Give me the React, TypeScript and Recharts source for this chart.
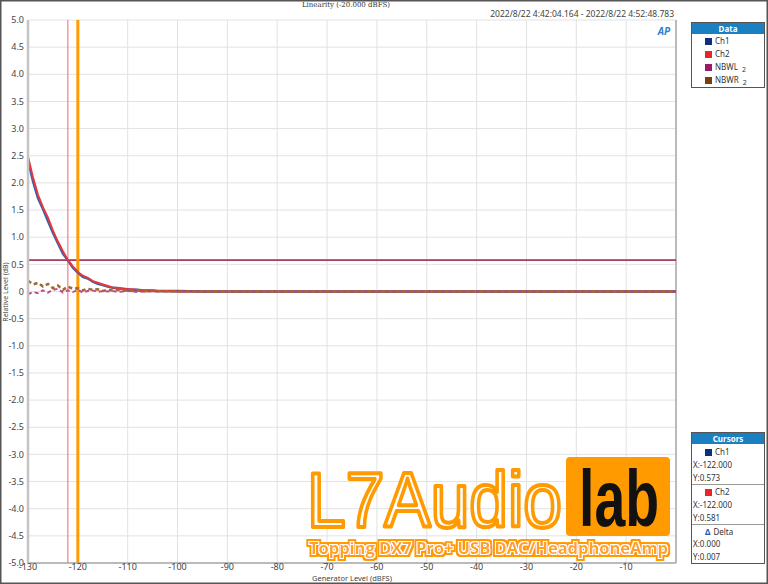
import React from "react";
import { LineChart, Line, XAxis, YAxis, CartesianGrid, ReferenceLine } from "recharts";

// generator level (dBFS)
const levels = [
  -130, -129, -128, -127, -126, -125, -124, -123, -122, -121, -120, -119, -118, -117, -116, -115,
  -114, -113, -112, -111, -110, -109, -108, -107, -106, -105, -104, -103, -102, -101, -100,
  -95, -90, -85, -80, -75, -70, -65, -60, -55, -50, -45, -40, -35, -30, -25, -20, -15, -10, -5, 0,
];

// relative level (dB)
const ch1 = [
  2.42, 2.03, 1.72, 1.52, 1.3, 1.08, 0.89, 0.7, 0.573, 0.44, 0.35, 0.27, 0.24, 0.18, 0.14, 0.12,
  0.09, 0.07, 0.06, 0.05, 0.04, 0.03, 0.03, 0.02, 0.02, 0.02, 0.01, 0.01, 0.01, 0.01, 0.01,
  0, 0, 0, 0, 0, 0, 0, 0, 0, 0, 0, 0, 0, 0, 0, 0, 0, 0, 0, 0,
];
const ch2 = [
  2.48, 2.1, 1.78, 1.55, 1.36, 1.12, 0.92, 0.74, 0.581, 0.46, 0.36, 0.29, 0.25, 0.19, 0.16, 0.13,
  0.1, 0.07, 0.07, 0.05, 0.04, 0.04, 0.03, 0.02, 0.02, 0.02, 0.01, 0.01, 0.01, 0.01, 0,
  0, 0, 0, 0, 0, 0, 0, 0, 0, 0, 0, 0, 0, 0, 0, 0, 0, 0, 0, 0,
];
const nbwl = [
  -0.05, -0.01, -0.03, 0.02, -0.02, 0.03, 0.05, -0.02, 0.02, -0.01, 0.03, -0.02, 0.01, 0.02, -0.01, 0.01,
  0, 0.01, -0.01, 0, 0.01, 0, -0.01, 0, 0, 0, 0, 0, 0, 0, 0,
  0, 0, 0, 0, 0, 0, 0, 0, 0, 0, 0, 0, 0, 0, 0, 0, 0, 0, 0, 0,
];
const nbwr = [
  0.2, 0.13, 0.16, 0.09, 0.14, 0.06, 0.11, 0.03, 0.09, 0.05, 0.06, 0.02, 0.05, 0.03, 0.04, 0.01,
  0.03, 0.02, 0.03, 0.01, 0.02, 0.01, 0.02, 0, 0.01, 0.01, 0, 0.01, 0, 0, 0,
  0, 0, 0, 0, 0, 0, 0, 0, 0, 0, 0, 0, 0, 0, 0, 0, 0, 0, 0, 0,
];

const xTicks = [-130, -120, -110, -100, -90, -80, -70, -60, -50, -40, -30, -20, -10, 0];
const yTicks = [-5, -4.5, -4, -3.5, -3, -2.5, -2, -1.5, -1, -0.5, 0, 0.5, 1, 1.5, 2, 2.5, 3, 3.5, 4, 4.5, 5];

// cursors
const cursorA = -122;
const cursorB = -120;
const cursorCh1Y = 0.573;
const cursorCh2Y = 0.581;

const legendItems = [
  { name: "Ch1", color: "#0d2f80", sub: "" },
  { name: "Ch2", color: "#e8262a", sub: "" },
  { name: "NBWL", color: "#9a1a6a", sub: "2" },
  { name: "NBWR", color: "#7a3d0c", sub: "2" },
];

const data = levels.map((level, i) => ({
  level,
  ch1: ch1[i],
  ch2: ch2[i],
  nbwl: nbwl[i],
  nbwr: nbwr[i],
}));

const font = "'Noto Sans', 'Open Sans', sans-serif";
const tickStyle = { fontSize: 9, fill: "#444", fontFamily: font };

function Box({ top, title, height, children }: any) {
  return (
    <div
      style={{
        position: "absolute",
        left: 691,
        top,
        width: 74,
        height,
        border: "1px solid #555",
        boxSizing: "border-box",
        background: "#fff",
        fontFamily: font,
        fontSize: 8,
        color: "#333",
      }}
    >
      <div
        style={{
          background: "#1a80c2",
          color: "#fff",
          fontWeight: 700,
          textAlign: "center",
          height: 11,
          lineHeight: "11px",
        }}
      >
        {title}
      </div>
      {children}
    </div>
  );
}

function Swatch({ color }: any) {
  return (
    <span
      style={{
        display: "inline-block",
        width: 7,
        height: 7,
        background: color,
        marginRight: 3,
        verticalAlign: "-1px",
      }}
    />
  );
}

const row = { height: 13, lineHeight: "13px", paddingLeft: 1, overflow: "hidden" };

export default function App() {
  return (
    <div
      style={{
        position: "absolute",
        left: 0,
        top: 0,
        width: 768,
        height: 584,
        background: "#fff",
        overflow: "hidden",
      }}
    >
      <LineChart
        width={768}
        height={584}
        data={data}
        margin={{ top: 20, right: 92, bottom: 0, left: 0 }}
      >
        <CartesianGrid stroke="#e2e2e2" strokeWidth={1} />
        <XAxis
          dataKey="level"
          type="number"
          domain={[-130, 0]}
          ticks={xTicks}
          tickFormatter={(v: number) => (v === 0 ? "" : String(v))}
          height={21}
          axisLine={{ stroke: "#a8a8a8", strokeWidth: 1.5 }}
          tickLine={false}
          tickSize={0}
          tickMargin={1}
          tick={tickStyle}
          interval={0}
        />
        <YAxis
          type="number"
          domain={[-5, 5]}
          ticks={yTicks}
          tickFormatter={(v: number) => (v === 0 ? "0" : v.toFixed(1))}
          width={28}
          axisLine={{ stroke: "#c4c4c4", strokeWidth: 2.5 }}
          tickLine={false}
          tickSize={0}
          tickMargin={4}
          tick={tickStyle}
          interval={0}
        />
        <ReferenceLine x={0} stroke="#a8a8a8" strokeWidth={1.5} />
        <ReferenceLine y={cursorCh1Y} stroke="#3a6cc0" strokeWidth={1} />
        <ReferenceLine y={cursorCh2Y} stroke="#c42c3c" strokeWidth={1.5} />
        <ReferenceLine x={cursorA} stroke="#f06478" strokeWidth={1} />
        <ReferenceLine x={cursorB} stroke="#ff9a00" strokeWidth={3} />
        <Line
          dataKey="nbwl"
          stroke="#c0489a"
          strokeWidth={2}
          strokeDasharray="4 3"
          dot={false}
          isAnimationActive={false}
        />
        <Line dataKey="ch1" stroke="#2f63b2" strokeWidth={2.5} dot={false} isAnimationActive={false} />
        <Line dataKey="ch2" stroke="#e8363c" strokeWidth={2} dot={false} isAnimationActive={false} />
        <Line
          dataKey="nbwr"
          stroke="#a06a30"
          strokeWidth={2.5}
          strokeDasharray="4 3"
          dot={false}
          isAnimationActive={false}
        />
      </LineChart>

      {/* texts and watermark drawn over the plot */}
      <svg
        width={768}
        height={584}
        style={{ position: "absolute", left: 0, top: 0, pointerEvents: "none" }}
      >
        <defs>
          <filter id="halo" x="-5%" y="-40%" width="110%" height="180%">
            <feMorphology in="SourceAlpha" operator="dilate" radius="1" result="inner" />
            <feFlood floodColor="#ffffff" />
            <feComposite in2="inner" operator="in" result="white" />
            <feMorphology in="SourceAlpha" operator="dilate" radius="2.5" result="outer" />
            <feFlood floodColor="#ff9a00" />
            <feComposite in2="outer" operator="in" result="orange" />
            <feMerge>
              <feMergeNode in="orange" />
              <feMergeNode in="white" />
              <feMergeNode in="SourceGraphic" />
            </feMerge>
          </filter>
        </defs>
        <rect x={0.75} y={0.75} width={766.5} height={582.5} fill="none" stroke="#555" strokeWidth={1.5} />
        <text x={346} y={7} textAnchor="middle" fontSize={7} fontFamily="'DejaVu Serif', serif" fill="#333">
          Linearity (-20.000 dBFS)
        </text>
        <text x={674} y={17} textAnchor="end" fontSize={8.5} fontFamily={font} fill="#444">
          2022/8/22 4:42:04.164 - 2022/8/22 4:52:48.783
        </text>
        <text x={664} y={35} textAnchor="middle" fontSize={10} fontStyle="italic" fontWeight={700} fontFamily={font} fill="#2a7fd0">
          AP
        </text>
        <text
          x={8}
          y={292}
          transform="rotate(-90 8 292)"
          textAnchor="middle"
          fontSize={7}
          fontFamily={font}
          fill="#444"
        >
          Relative Level (dB)
        </text>
        <text x={352} y={581} textAnchor="middle" fontSize={7.5} fontFamily={font} fill="#444">
          Generator Level (dBFS)
        </text>

        {/* watermark */}
        <text
          x={307}
          y={527}
          fontSize={78}
          fontFamily="'Liberation Sans', Arial, sans-serif"
          textLength={255}
          lengthAdjust="spacingAndGlyphs"
          fill="#fff"
          stroke="#ff9a00"
          strokeWidth={4}
          strokeLinejoin="round"
        >
          L7Audio
        </text>
        <rect x={566} y={457} width={104} height={79} rx={4} fill="#ff9a00" />
        <text
          x={579}
          y={526}
          fontSize={80}
          fontWeight={700}
          fontFamily="'Liberation Sans', Arial, sans-serif"
          textLength={80}
          lengthAdjust="spacingAndGlyphs"
          fill="#111"
        >
          lab
        </text>
        <text
          x={309}
          y={554}
          fontSize={16.5}
          fontWeight={700}
          fontFamily="'Open Sans', sans-serif"
          textLength={359}
          lengthAdjust="spacingAndGlyphs"
          fill="#ffa31a"
          filter="url(#halo)"
        >
          Topping DX7 Pro+ USB DAC/HeadphoneAmp
        </text>
      </svg>

      <Box top={22} title="Data" height={66}>
        {legendItems.map((it) => (
          <div key={it.name} style={{ height: 13, lineHeight: "13px", paddingLeft: 13 }}>
            <Swatch color={it.color} />
            {it.name}
            {it.sub && <span style={{ marginLeft: 4, fontSize: 7, verticalAlign: "-2px" }}>{it.sub}</span>}
          </div>
        ))}
      </Box>

      <Box top={432} title="Cursors" height={132}>
        <div style={{ borderBottom: "1px solid #999", height: 40 }}>
          <div style={{ ...row, height: 14, lineHeight: "16px", paddingLeft: 13 }}>
            <Swatch color="#0d2f80" />
            Ch1
          </div>
          <div style={row}>X:{cursorA.toFixed(3)}</div>
          <div style={row}>Y:{cursorCh1Y.toFixed(3)}</div>
        </div>
        <div style={{ borderBottom: "1px solid #999", height: 39 }}>
          <div style={{ ...row, lineHeight: "14px", paddingLeft: 13 }}>
            <Swatch color="#e8262a" />
            Ch2
          </div>
          <div style={row}>X:{cursorA.toFixed(3)}</div>
          <div style={row}>Y:{cursorCh2Y.toFixed(3)}</div>
        </div>
        <div>
          <div style={{ ...row, lineHeight: "14px", paddingLeft: 13 }}>
            <span style={{ color: "#1a5cb0", fontWeight: 700, marginRight: 3 }}>Δ</span>
            Delta
          </div>
          <div style={{ ...row, height: 12, lineHeight: "12px" }}>X:{(0).toFixed(3)}</div>
          <div style={row}>Y:{(cursorCh2Y - cursorCh1Y - 0.001).toFixed(3)}</div>
        </div>
      </Box>
    </div>
  );
}
